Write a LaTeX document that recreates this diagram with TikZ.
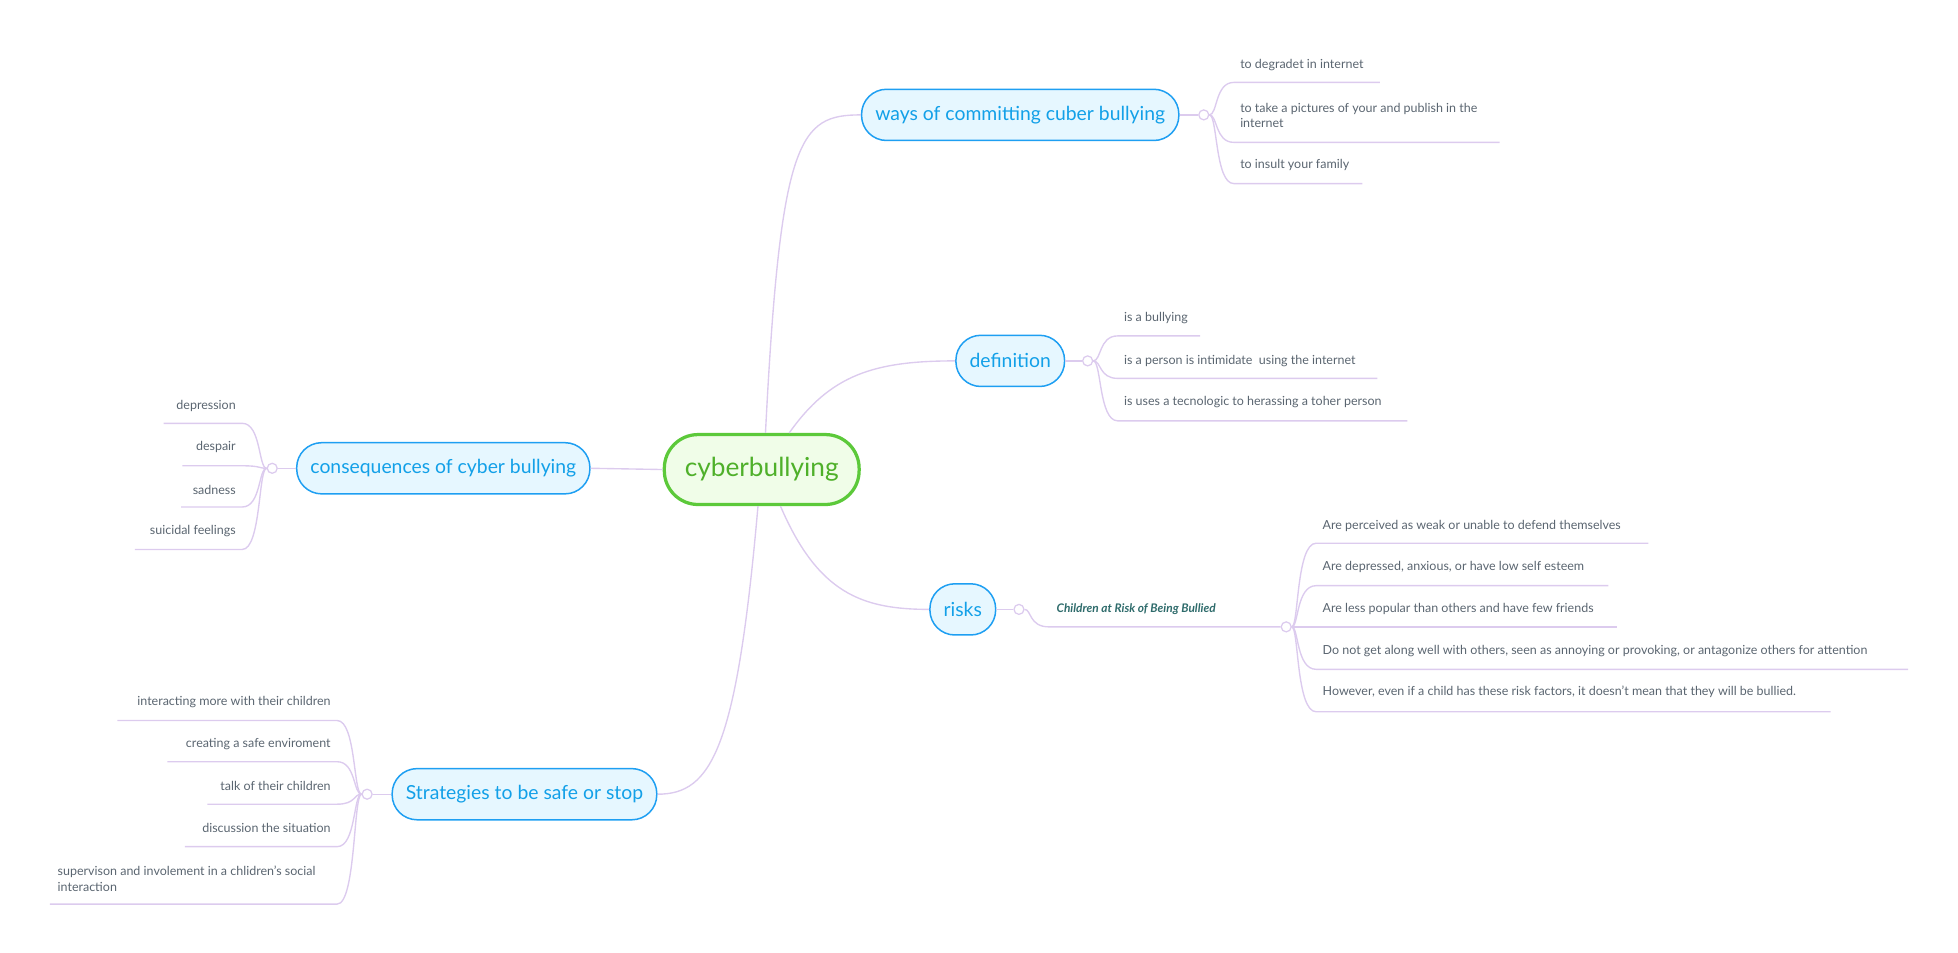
\documentclass[tikz,border=0pt]{standalone}
\usepackage{fontspec}
\setmainfont{Lato}
\definecolor{twig}{HTML}{DCCBEE}
\definecolor{topicline}{HTML}{1E9FF2}
\definecolor{topicfill}{HTML}{E6F7FF}
\definecolor{topictext}{HTML}{12A0E8}
\definecolor{rootline}{HTML}{5CC93A}
\definecolor{rootfill}{HTML}{F0FDE8}
\definecolor{roottext}{HTML}{4FB02A}
\definecolor{leaftext}{HTML}{5A6570}
\definecolor{subtext}{HTML}{2E6B6B}
\tikzset{
  root/.style={draw=rootline, line width=2.6pt, fill=rootfill, text=roottext, rounded corners=27pt,
    minimum width=156pt, minimum height=56pt, font=\fontsize{21}{25}\selectfont},
  topic/.style={draw=topicline, line width=1.2pt, fill=topicfill, text=topictext, rounded corners=20pt,
    minimum height=41pt, inner xsep=11pt, font=\fontsize{15.5}{18}\selectfont},
  leaf/.style={text=leaftext, inner sep=0pt, font=\fontsize{10}{12.5}\selectfont, align=left},
  knot/.style={circle, draw=twig, fill=white, line width=1pt, inner sep=0pt, minimum size=8pt},
  twigline/.style={draw=twig, line width=1.1pt}
}
\begin{document}
\begin{tikzpicture}[x=1pt,y=-1pt]
\useasboundingbox (0,0) rectangle (1568,763);

% main topic and branches
\node[root] (cb) at (610,376) {cyberbullying};
\node[topic] (ways) at (817,92) {ways of committing cuber bullying};
\node[topic] (def) at (809,289) {definition};
\node[topic] (risk) at (771,488) {risks};
\node[topic] (cons) at (355,375) {consequences of cyber bullying};
\node[topic] (strat) at (420,636) {Strategies to be safe or stop};

\draw[twigline] (cb.north) ++(3,0) coordinate (cbn) .. controls (625,110) and (640,92) .. (ways.west);
\draw[twigline] (cb.north) ++(22,0) coordinate (cbd) .. controls (665,300) and (700,289) .. (def.west);
\draw[twigline] (cb.south) ++(15,0) coordinate (cbr) .. controls (655,475) and (690,488) .. (risk.west);
\draw[twigline] (cb.west) -- (cons.east);
\draw[twigline] (cb.south) ++(-3,0) coordinate (cbs) .. controls (590,600) and (570,636) .. (strat.east);

% ways
\node[knot] (wk) at (964,92) {};
\draw[twigline] (ways.east) -- (wk);
\node[leaf, anchor=west] (w1) at (993,52) {to degradet in internet};
\node[leaf, anchor=west] (w2) at (993,92.5) {to take a pictures of your and publish in the\\internet};
\node[leaf, anchor=west] (w3) at (993,132) {to insult your family};
\foreach \n/\y/\e in {w1/66/1105, w2/114/1201, w3/147/1091}
  \draw[twigline] (wk.east) .. controls (975,92) and (973,\y) .. (988,\y) -- (\e,\y) coordinate (\n e);

% definition
\node[knot] (dk) at (871,289) {};
\draw[twigline] (def.east) -- (dk);
\node[leaf, anchor=west] (d1) at (900,255) {is a bullying};
\node[leaf, anchor=west] (d2) at (900,289) {is a person is intimidate \ using the internet};
\node[leaf, anchor=west] (d3) at (900,322) {is uses a tecnologic to herassing a toher person};
\foreach \n/\y/\e in {d1/269/961, d2/303/1103, d3/337/1127}
  \draw[twigline] (dk.east) .. controls (882,289) and (880,\y) .. (895,\y) -- (\e,\y) coordinate (\n e);

% risks
\node[knot] (rk) at (816,488) {};
\draw[twigline] (risk.east) -- (rk);
\node[leaf, anchor=west, text=subtext, font=\fontsize{9.5}{12}\selectfont\bfseries\itshape] (sub) at (846,488) {Children at Risk of Being Bullied};
\node[knot] (sk) at (1030,502) {};
\draw[twigline] (rk.east) .. controls (826,488) and (824,502) .. (840,502) -- (sk.west);
\node[leaf, anchor=west] (r1) at (1059,421) {Are perceived as weak or unable to defend themselves};
\node[leaf, anchor=west] (r2) at (1059,454) {Are depressed, anxious, or have low self esteem};
\node[leaf, anchor=west] (r3) at (1059,488) {Are less popular than others and have few friends};
\node[leaf, anchor=west] (r4) at (1059,521) {Do not get along well with others, seen as annoying or provoking, or antagonize others for attention};
\node[leaf, anchor=west] (r5) at (1059,554) {However, even if a child has these risk factors, it doesn't mean that they will be bullied.};
\foreach \n/\y/\e in {r1/435/1320, r2/469/1288, r3/502/1295, r4/536/1528, r5/570/1466}
  \draw[twigline] (sk.east) .. controls (1040,502) and (1038,\y) .. (1054,\y) -- (\e,\y) coordinate (\n e);

% consequences
\node[knot] (ck) at (218,375) {};
\draw[twigline] (cons.west) -- (ck);
\node[leaf, anchor=east] (c1) at (189,325) {depression};
\node[leaf, anchor=east] (c2) at (189,358) {despair};
\node[leaf, anchor=east] (c3) at (189,392) {sadness};
\node[leaf, anchor=east] (c4) at (189,425) {suicidal feelings};
\foreach \n/\y/\e in {c1/339/131, c2/373/146, c3/406/145, c4/440/108}
  \draw[twigline] (ck.west) .. controls (207,375) and (209,\y) .. (194,\y) -- (\e,\y) coordinate (\n e);

% strategies
\node[knot] (stk) at (294,636) {};
\draw[twigline] (strat.west) -- (stk);
\node[leaf, anchor=east] (s1) at (265,562) {interacting more with their children};
\node[leaf, anchor=east] (s2) at (265,596) {creating a safe enviroment};
\node[leaf, anchor=east] (s3) at (265,629) {talk of their children};
\node[leaf, anchor=east] (s4) at (265,663) {discussion the situation};
\node[leaf, anchor=west] (s5) at (46,703.5) {supervison and involement in a chlidren's social\\interaction};
\foreach \n/\y/\e in {s1/577/94, s2/610/134, s3/644/166, s4/678/148, s5/724/40}
  \draw[twigline] (stk.west) .. controls (283,636) and (285,\y) .. (270,\y) -- (\e,\y) coordinate (\n e);
\end{tikzpicture}
\end{document}
